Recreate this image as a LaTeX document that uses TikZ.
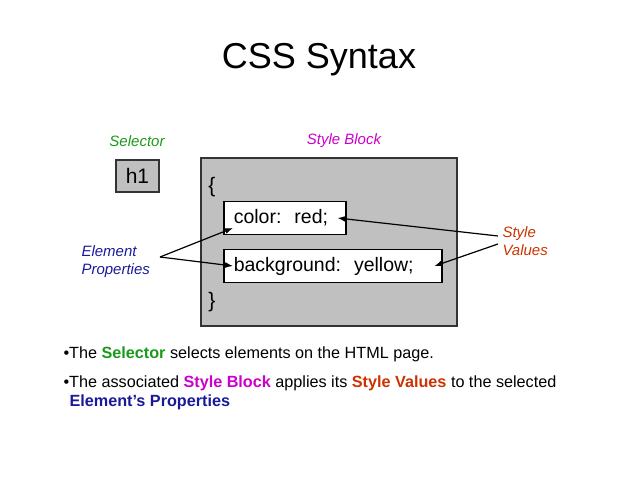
\documentclass[tikz,border=0pt]{standalone}
\usepackage{fontspec}
\usetikzlibrary{arrows.meta}
\setmainfont{Liberation Sans}
\definecolor{selg}{HTML}{1A9A1A}
\definecolor{blkm}{HTML}{CC00CC}
\definecolor{valo}{HTML}{CC3300}
\definecolor{elb}{HTML}{1A1A99}
\definecolor{boxg}{HTML}{C0C0C0}
\begin{document}
\begin{tikzpicture}[x=1pt,y=-1pt,
  gbox/.style={draw=black!80,line width=1.5pt,fill=boxg},
  wbox/.style={draw=black,line width=1.5pt,fill=white,anchor=west,inner xsep=10pt,inner ysep=0pt,minimum height=33pt,align=left,font=\fontsize{19.5}{22}\selectfont},
  lab/.style={font=\fontsize{15}{18}\selectfont\itshape},
  arr/.style={-{Latex[length=8pt,width=6pt]},line width=1.2pt}]
\useasboundingbox (0,0) rectangle (638,478);
\node (title) at (319,60) {\fontsize{36}{40}\selectfont CSS Syntax};
\node[lab,text=selg] (sel) at (137,141) {Selector};
\node[lab,text=blkm] (sb) at (344,141) {Style Block};
\draw[gbox] (116,160) rectangle (159,192);
\node (h1) at (137.5,176) {\fontsize{21}{24}\selectfont h1};
\draw[gbox] (201,158) rectangle (457,326);
\node (ob) at (212,187) {\fontsize{21}{24}\selectfont\{};
\node (cb) at (212,302) {\fontsize{21}{24}\selectfont\}};
\node[wbox,text width=102pt] (color) at (223,218) {color:\ \ red;};
\node[wbox,text width=198pt] (bg) at (223,266) {background:\ \ yellow;};
\node[lab,text=elb,align=left,anchor=west] (ep) at (78,262) {Element\\Properties};
\node[lab,text=valo,align=left,anchor=west] (sv) at (499,241) {Style\\Values};
\coordinate (e1) at (160,257);
\coordinate (s1) at (498,236);
\coordinate (s2) at (498,244);
\draw[arr] (e1) -- (233,228);
\draw[arr] (e1) -- ([xshift=10pt]bg.west);
\draw[arr] (s1) -- ([xshift=-9pt]color.east);
\draw[arr] (s2) -- ([xshift=-8pt,yshift=0pt]bg.east);
\begin{scope}[every node/.style={anchor=west,font=\fontsize{16.2}{19}\selectfont}]
\node (b1) at (60,354) {•The \textbf{\textcolor{selg}{Selector}} selects elements on the HTML page.};
\node (b2) at (60,383) {•The associated \textbf{\textcolor{blkm}{Style Block}} applies its \textbf{\textcolor{valo}{Style Values}} to the selected};
\node (b3) at (66,402) {\textbf{\textcolor{elb}{Element’s Properties}}};
\end{scope}
\end{tikzpicture}
\end{document}
